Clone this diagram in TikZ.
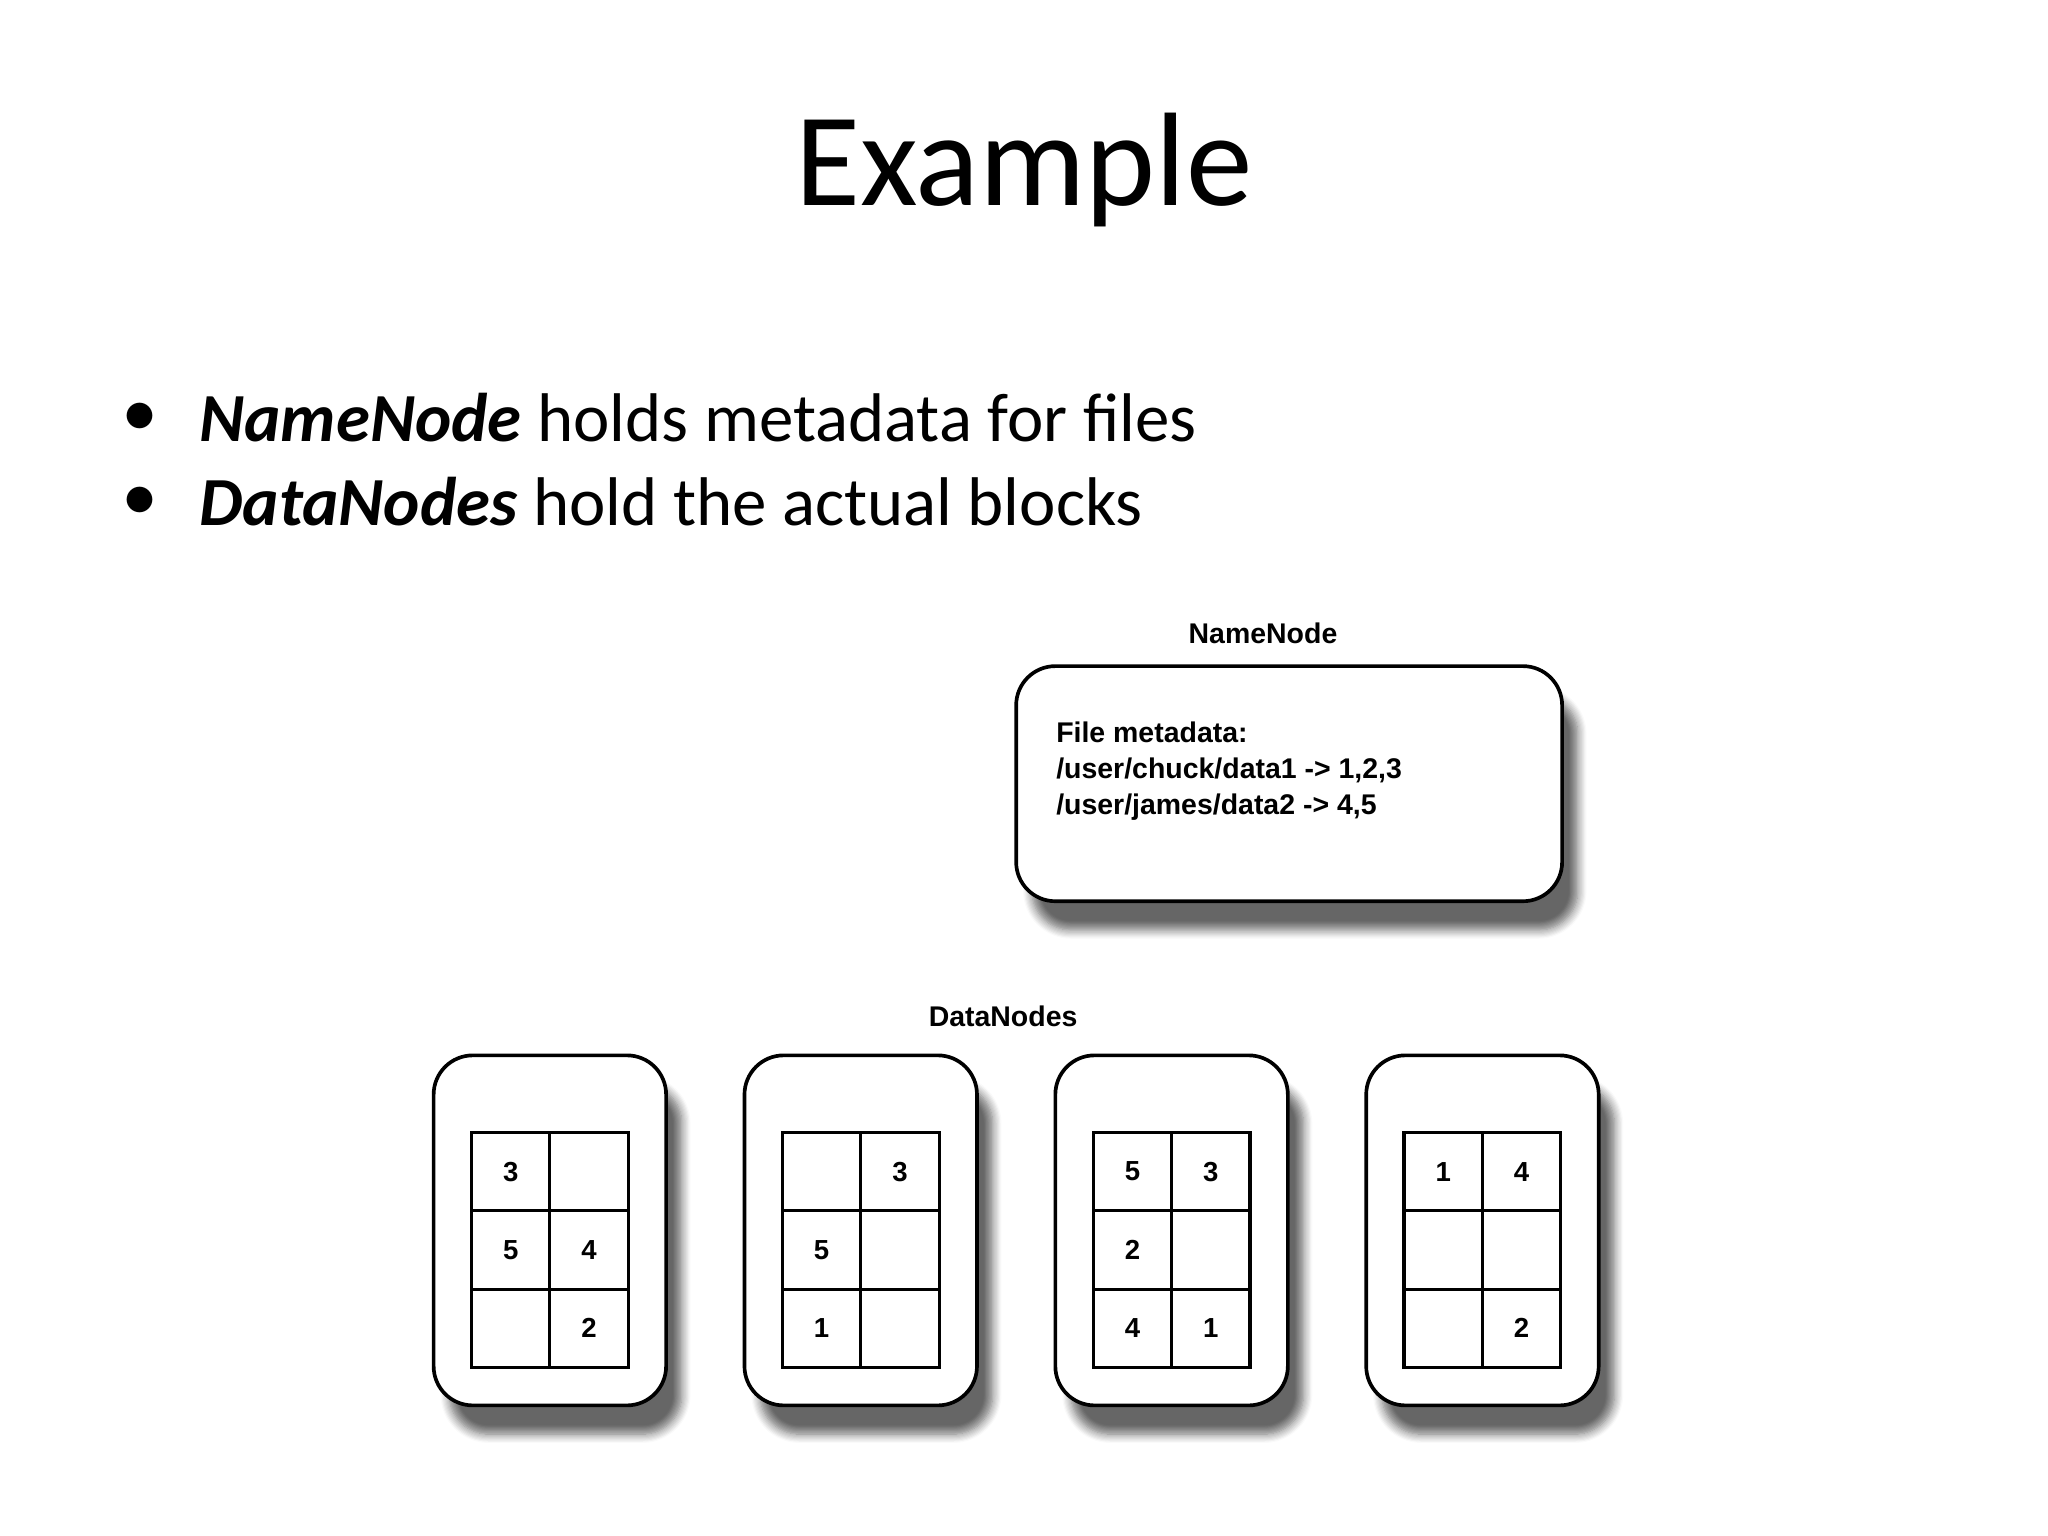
\documentclass[tikz,border=0pt]{standalone}
\usepackage{fontspec}
\setmainfont{Carlito}
\newfontfamily\diag{Liberation Sans}
\usetikzlibrary{shadows.blur}
\begin{document}
\begin{tikzpicture}[x=0.1mm,y=-0.1mm,
  box/.style={draw=black,line width=0.8pt,fill=white,rounded corners=3mm,
    blur shadow={shadow xshift=1.2mm,shadow yshift=-2.2mm,shadow blur steps=8,shadow opacity=60}},
  cell/.style={draw=black,line width=0.7pt,minimum width=6mm,minimum height=6mm,inner sep=0pt,
    font=\diag\bfseries\fontsize{6}{7}\selectfont},
  lbl/.style={font=\diag\bfseries\fontsize{6.2}{7}\selectfont}]
\useasboundingbox (0,0) rectangle (1568,1176);
\node (title) at (784,130) {\fontsize{29}{34}\selectfont Example};
\node[anchor=west] (b1) at (82,320) {\fontsize{15}{18}\selectfont $\bullet$};
\node[anchor=west] (b2) at (82,384) {\fontsize{15}{18}\selectfont $\bullet$};
\node[anchor=west,inner sep=0pt] (t1) at (152,320) {\fontsize{15}{18}\selectfont\textbf{\textit{NameNode}} holds metadata for files};
\node[anchor=west,inner sep=0pt] (t2) at (152,384) {\fontsize{15}{18}\selectfont\textbf{\textit{DataNodes}} hold the actual blocks};
\node[lbl] (nnl) at (967,485) {NameNode};
\draw[box] (778,510) rectangle (1196,690);
\node[anchor=north west,inner sep=0pt,align=left,font=\diag\bfseries\fontsize{6.2}{7.8}\selectfont] (meta) at (808,552)
  {File metadata:\\/user/chuck/data1 -> 1,2,3\\/user/james/data2 -> 4,5};
\node[lbl] (dnl) at (768,778) {DataNodes};
\foreach \bx/\a/\b/\c/\d/\e/\f [count=\i] in {332/3//5/4//2, 570//3/5//1/, 808/5/3/2//4/1, 1046/1/4////2}{
  \draw[box] (\bx,808) rectangle ++(178,268);
  \node[cell] (g\i a) at (\bx+59,897) {\a};
  \node[cell] (g\i b) at (\bx+119,897) {\b};
  \node[cell] (g\i c) at (\bx+59,957) {\c};
  \node[cell] (g\i d) at (\bx+119,957) {\d};
  \node[cell] (g\i e) at (\bx+59,1017) {\e};
  \node[cell] (g\i f) at (\bx+119,1017) {\f};
}
\end{tikzpicture}
\end{document}
